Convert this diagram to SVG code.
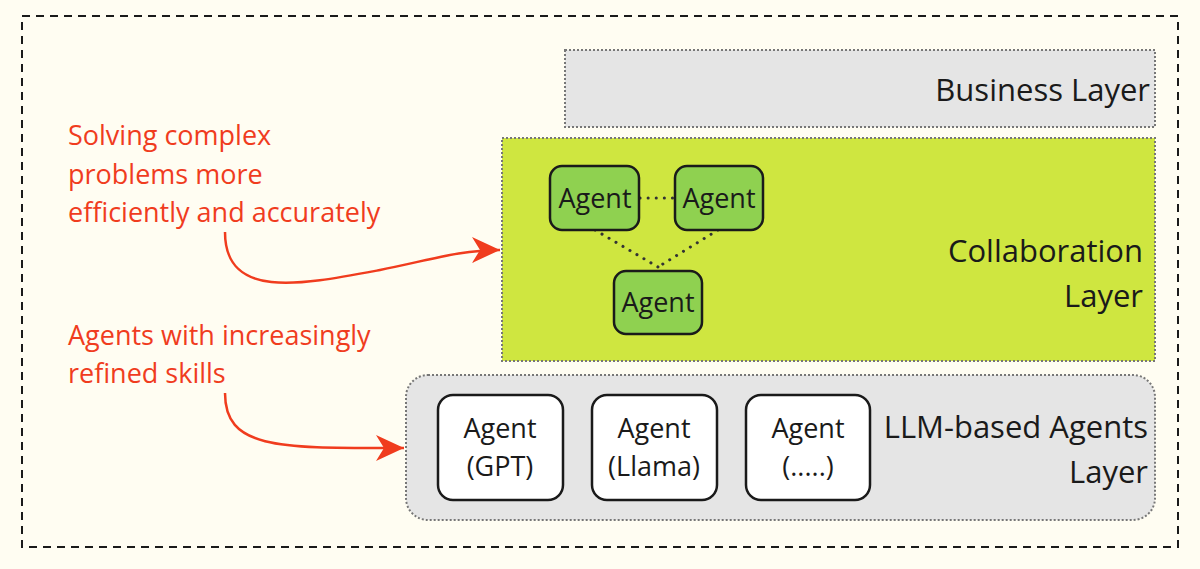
<svg xmlns="http://www.w3.org/2000/svg" width="1200" height="569" viewBox="0 0 1200 569">
<style>
text{font-family:"Open Sans","Noto Sans",sans-serif;font-size:27px;fill:#1a1a1a}
.red{fill:#f03c1e}
.big{font-size:31px}
.layer{stroke:#777;stroke-width:2;stroke-dasharray:2 2}
.ag{fill:#8fd150;stroke:#1a1a1a;stroke-width:2.5}
.llm{fill:#fff;stroke:#1a1a1a;stroke-width:2.5}
.dot{stroke:#333;stroke-width:3;stroke-dasharray:0.1 8;stroke-linecap:round;fill:none}
.arr{stroke:#f03c1e;stroke-width:2.5;fill:none}
</style>
<defs>
<marker id="ah2" markerWidth="30" markerHeight="30" refX="28" refY="15" orient="auto" markerUnits="userSpaceOnUse"><path d="M0,2 L28,15 L0,28 L8,15 Z" fill="#f03c1e"/></marker></defs>
<rect width="1200" height="569" fill="#fffdf2"/>
<rect x="22" y="16" width="1156" height="531" fill="none" stroke="#1a1a1a" stroke-width="2" stroke-dasharray="8 6"/>
<g id="business"><rect class="layer" x="565" y="50" width="590" height="77" fill="#e5e5e5"/><text class="big" x="1150" y="101" text-anchor="end">Business Layer</text></g>
<g id="collab"><rect class="layer" x="502" y="138" width="653" height="223" fill="#cfe640"/><text class="big" x="1143" y="262" text-anchor="end">Collaboration</text><text class="big" x="1143" y="307" text-anchor="end">Layer</text></g>
<g id="llm"><rect class="layer" x="406" y="375" width="749" height="145" rx="22" fill="#e5e5e5"/><text class="big" x="1148" y="438" text-anchor="end">LLM-based Agents</text><text class="big" x="1148" y="483" text-anchor="end">Layer</text></g>
<g id="connectors">
<path class="dot" d="M640,198 L675,198 M595,230 L658,267 M718,230 L658,267"/>
<path class="arr" marker-end="url(#ah2)" d="M225,232 C225,300 300,285 380,270 C430,260 460,250 500,250"/>
<path class="arr" marker-end="url(#ah2)" d="M225,393 C225,450 280,448 404,448"/>
</g>
<g id="a1"><rect class="ag" x="550" y="166" width="89" height="64" rx="12"/><text x="595" y="208" text-anchor="middle">Agent</text></g>
<g id="a2"><rect class="ag" x="675" y="166" width="88" height="64" rx="12"/><text x="719" y="208" text-anchor="middle">Agent</text></g>
<g id="a3"><rect class="ag" x="614" y="271" width="88" height="63" rx="12"/><text x="658" y="312" text-anchor="middle">Agent</text></g>
<g id="gpt"><rect class="llm" x="438" y="395" width="125" height="105" rx="15"/><text x="500" y="438" text-anchor="middle">Agent</text><text x="500" y="476" text-anchor="middle">(GPT)</text></g>
<g id="llama"><rect class="llm" x="592" y="395" width="125" height="105" rx="15"/><text x="654" y="438" text-anchor="middle">Agent</text><text x="654" y="476" text-anchor="middle">(Llama)</text></g>
<g id="other"><rect class="llm" x="746" y="395" width="124" height="105" rx="15"/><text x="808" y="438" text-anchor="middle">Agent</text><text x="808" y="476" text-anchor="middle">(.....)</text></g>
<g id="note1"><text class="red" x="68" y="145">Solving complex</text><text class="red" x="68" y="184">problems more</text><text class="red" x="68" y="222">efficiently and accurately</text></g>
<g id="note2"><text class="red" x="68" y="345">Agents with increasingly</text><text class="red" x="68" y="383">refined skills</text></g>
</svg>
